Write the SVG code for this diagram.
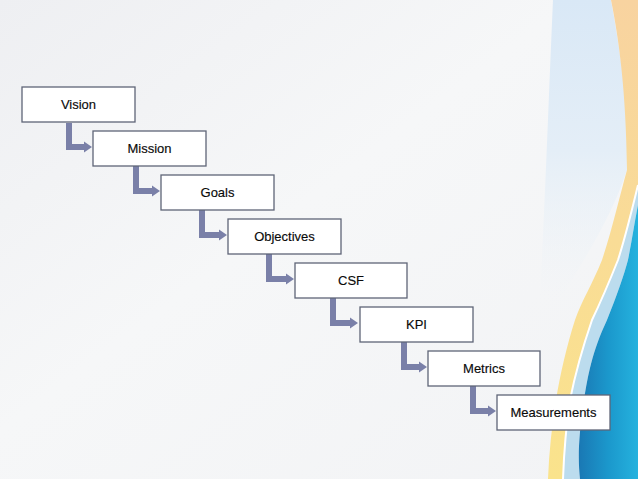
<svg xmlns="http://www.w3.org/2000/svg" width="638" height="479" viewBox="0 0 638 479">
<defs>
<linearGradient id="bg" x1="0" y1="0" x2="1" y2="1">
<stop offset="0" stop-color="#eeeff2"/>
<stop offset="0.45" stop-color="#f6f7f8"/>
<stop offset="1" stop-color="#f2f3f5"/>
</linearGradient>
<linearGradient id="pale" x1="0" y1="0" x2="0" y2="1">
<stop offset="0" stop-color="#d9e8f6"/>
<stop offset="0.5" stop-color="#e4eef7"/>
<stop offset="1" stop-color="#eef3f8" stop-opacity="0"/>
</linearGradient>
<linearGradient id="gold" x1="0" y1="0" x2="0" y2="1">
<stop offset="0" stop-color="#f8d3a0"/>
<stop offset="0.5" stop-color="#f9dc96"/>
<stop offset="1" stop-color="#fae38c"/>
</linearGradient>
<linearGradient id="deep" x1="0" y1="0" x2="1" y2="0">
<stop offset="0" stop-color="#1a78b4"/>
<stop offset="0.5" stop-color="#1b98cc"/>
<stop offset="1" stop-color="#25b2de"/>
</linearGradient>
<style>
.box{fill:#ffffff;stroke:#5f6577;stroke-width:1.3}
.lbl{font-family:"Liberation Sans",Arial,sans-serif;font-size:13px;fill:#0a0a0a;stroke:#0a0a0a;stroke-width:0.15;text-anchor:middle}
.con{fill:#7a80a8}
</style>
</defs>
<rect width="638" height="479" fill="url(#bg)"/>
<path d="M553,0 C549,90 546,180 540,300 L560,300 C590,250 612,215 627,170 C630,120 622,60 611,0 Z" fill="url(#pale)"/>
<path d="M611,0 C619,40 626,90 627,170 C620,195 612,230 602,260 C592,285 582,300 575,320 C567,345 560,375 556,400 C552,425 549,452 548,479 L563,479 C564,452 567,420 570,400 C575,375 580,355 592,320 C604,295 612,275 618,260 C626,235 632,210 638,185 L638,0 Z" fill="url(#gold)"/>
<path d="M638,185 C632,210 626,235 618,260 C612,275 604,295 592,320 C580,355 575,375 570,400 C567,420 564,452 563,479 L580,479 C578,460 578,440 584,400 C588,375 592,352 607,320 C617,295 624,275 628,260 C632,240 635,220 638,205 Z" fill="#bcdcee"/>
<path d="M638,185 C632,210 626,235 618,260 C612,275 604,295 592,320 C580,355 575,375 570,400 C567,420 564,452 563,479" fill="none" stroke="#ffffff" stroke-width="2"/>
<path d="M638,205 C635,220 632,240 628,260 C624,275 617,295 607,320 C592,352 588,375 584,400 C578,440 578,460 580,479 L638,479 Z" fill="url(#deep)"/>
<g id="connectors">
<path class="con" d="M66,123 H72 V144 H84 V141.5 L92,147 L84,152.5 V150 H66 Z"/>
<path class="con" d="M133,166 H139 V188 H152 V185.5 L160,191 L152,196.5 V194 H133 Z"/>
<path class="con" d="M199,210 H205 V232 H219 V229.5 L227,235 L219,240.5 V238 H199 Z"/>
<path class="con" d="M266,254 H272 V276 H286 V273.5 L294,279 L286,284.5 V282 H266 Z"/>
<path class="con" d="M330,298 H336 V320 H350 V317.5 L358,323 L350,328.5 V326 H330 Z"/>
<path class="con" d="M401,342 H407 V364 H419 V361.5 L427,367 L419,372.5 V370 H401 Z"/>
<path class="con" d="M470,386 H476 V408 H488 V405.5 L496,411 L488,416.5 V414 H470 Z"/>
</g>
<g id="vision"><rect class="box" x="22" y="87" width="113" height="35"/><text class="lbl" x="78.5" y="109">Vision</text></g>
<g id="mission"><rect class="box" x="93" y="131" width="113" height="35"/><text class="lbl" x="149.5" y="153">Mission</text></g>
<g id="goals"><rect class="box" x="161" y="175" width="113" height="35"/><text class="lbl" x="217.5" y="197">Goals</text></g>
<g id="objectives"><rect class="box" x="228" y="219" width="113" height="35"/><text class="lbl" x="284.5" y="241">Objectives</text></g>
<g id="csf"><rect class="box" x="295" y="263" width="112" height="35"/><text class="lbl" x="351" y="285">CSF</text></g>
<g id="kpi"><rect class="box" x="360" y="307" width="113" height="35"/><text class="lbl" x="416.5" y="329">KPI</text></g>
<g id="metrics"><rect class="box" x="428" y="351" width="112" height="35"/><text class="lbl" x="484" y="373">Metrics</text></g>
<g id="measurements"><rect class="box" x="497" y="395" width="113" height="35"/><text class="lbl" x="553.5" y="417">Measurements</text></g>
</svg>
